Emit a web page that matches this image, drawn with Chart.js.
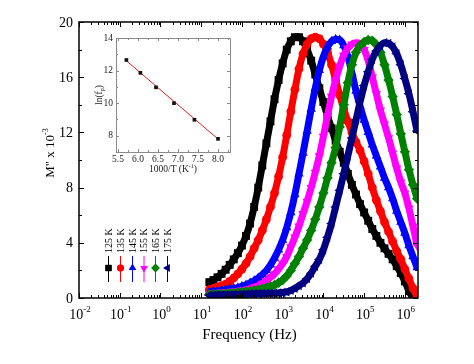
<!DOCTYPE html>
<html>
<head>
<meta charset="utf-8">
<script src="https://cdn.jsdelivr.net/npm/chart.js@4.4.0/dist/chart.umd.min.js"></script>
<style>
  html, body { margin: 0; padding: 0; background: #fff; }
  #wrap { position: relative; width: 474px; height: 364px; }
  #main { position: absolute; left: 0; top: 0; }
  #inset { position: absolute; left: 86px; top: 28px; }
</style>
</head>
<body>
<div id="wrap">
  <canvas id="main" width="474" height="364"></canvas>
  <canvas id="inset" width="160" height="150"></canvas>
</div>
<script>
// log10 of frequency (Hz) for each measured point
const logFreq = [1.2, 1.3, 1.4, 1.5, 1.6, 1.7, 1.8, 1.9, 2.0, 2.1, 2.2, 2.3, 2.4, 2.5, 2.6, 2.7, 2.8, 2.9,
  3.0, 3.1, 3.2, 3.3, 3.4, 3.5, 3.6, 3.7, 3.8, 3.9, 4.0, 4.1, 4.2, 4.3, 4.4, 4.5, 4.6, 4.7, 4.8, 4.9,
  5.0, 5.1, 5.2, 5.3, 5.4, 5.5, 5.6, 5.7, 5.8, 5.9, 6.0, 6.1, 6.2, 6.3];

// M'' x 10^-3 for each temperature
const m125 = [1.15, 1.3, 1.5, 1.75, 2.05, 2.4, 2.8, 3.25, 3.8, 4.5, 5.4, 6.6, 8.0, 9.6, 11.2, 12.8, 14.4, 15.8,
  17.0, 18.0, 18.6, 18.9, 18.9, 18.6, 18.0, 17.2, 16.2, 15.2, 14.2, 13.2, 12.3, 11.4, 10.6, 9.8, 9.0, 8.2, 7.5, 6.8,
  6.2, 5.6, 5.0, 4.5, 4.0, 3.6, 3.2, 2.8, 2.3, 1.8, 1.2, 0.5, 0.0];
const m135 = [0.6, 0.7, 0.8, 0.9, 1.0, 1.2, 1.45, 1.75, 2.1, 2.5, 3.0, 3.6, 4.2, 4.9, 5.7, 6.6, 7.6, 8.8,
  10.2, 11.8, 13.5, 15.1, 16.6, 17.7, 18.4, 18.8, 18.9, 18.8, 18.4, 17.8, 16.9, 15.8, 14.7, 13.7, 12.8, 12.0, 11.3, 10.7,
  9.9, 9.0, 8.0, 7.1, 6.3, 5.5, 4.8, 4.1, 3.4, 2.8, 2.1, 1.4, 0.7, 0.1];
const m145 = [0.45, 0.48, 0.5, 0.55, 0.6, 0.65, 0.7, 0.75, 0.85, 0.95, 1.1, 1.25, 1.45, 1.7, 2.0, 2.4, 2.9, 3.5,
  4.2, 5.1, 6.2, 7.5, 9.0, 10.5, 12.1, 13.7, 15.2, 16.5, 17.5, 18.2, 18.6, 18.75, 18.7, 18.3, 17.5, 16.3, 15.0, 13.9,
  12.9, 12.0, 11.1, 10.3, 9.5, 8.7, 8.0, 7.2, 6.3, 5.5, 4.7, 3.8, 3.0, 2.2];
const m155 = [0.3, 0.32, 0.35, 0.38, 0.4, 0.43, 0.46, 0.5, 0.55, 0.6, 0.68, 0.78, 0.9, 1.05, 1.25, 1.5, 1.75, 2.1,
  2.5, 3.0, 3.7, 4.4, 5.2, 6.1, 7.0, 8.0, 9.1, 10.3, 11.7, 13.2, 14.6, 15.8, 16.8, 17.6, 18.1, 18.4, 18.5, 18.45,
  18.0, 17.2, 16.0, 14.8, 13.6, 12.6, 11.6, 10.5, 9.4, 8.4, 7.6, 6.5, 5.2, 3.8];
const m165 = [0.25, 0.27, 0.28, 0.3, 0.32, 0.34, 0.37, 0.4, 0.43, 0.47, 0.5, 0.55, 0.6, 0.66, 0.74, 0.83, 0.94, 1.1,
  1.3, 1.6, 2.0, 2.5, 3.0, 3.6, 4.2, 4.9, 5.7, 6.6, 7.6, 8.7, 9.8, 10.9, 12.4, 14.0, 15.6, 16.9, 17.8, 18.3,
  18.55, 18.7, 18.65, 18.35, 17.8, 16.9, 15.8, 14.6, 13.3, 11.9, 10.6, 9.3, 8.2, 7.2];
const m175 = [0.2, 0.2, 0.21, 0.22, 0.23, 0.24, 0.25, 0.26, 0.27, 0.28, 0.29, 0.3, 0.31, 0.32, 0.33, 0.34, 0.35, 0.37,
  0.4, 0.45, 0.55, 0.7, 0.9, 1.1, 1.4, 1.8, 2.3, 2.8, 3.5, 4.4, 5.4, 6.6, 7.8, 9.0, 10.3, 11.6, 12.9, 14.2,
  15.4, 16.4, 17.3, 17.9, 18.3, 18.5, 18.45, 18.2, 17.7, 16.9, 15.9, 14.8, 13.5, 12.1];

const tempLabels = ['125 K', '135 K', '145 K', '155 K', '165 K', '175 K'];
const xTickExp = [-2, -1, 0, 1, 2, 3, 4, 5, 6];
const yTicks = [0, 4, 8, 12, 16, 20];

// inset: Arrhenius plot of the peak frequency
const invT = [5.71, 6.06, 6.45, 6.90, 7.41, 8.00];
const lnFp = [12.65, 11.86, 10.97, 10.0, 8.98, 7.81];
const fitX = [5.70, 8.00];
const fitY = [12.62, 7.80];
const insetXTicks = [5.5, 6.0, 6.5, 7.0, 7.5, 8.0];
const insetYTicks = [8, 10, 12, 14];

const X_MIN = 0.01, X_MAX = 2.1e6;
const SERIF = '"Liberation Serif", "Times New Roman", serif';

const styles = [
  { color: '#000000', point: 'rect', radius: 5.6, legR: 4.4, rot: 0 },
  { color: '#ff0000', point: 'circle', radius: 4.4, legR: 3.5, rot: 0 },
  { color: '#0000ff', point: 'triangle', radius: 5.4, legR: 4.2, rot: 0 },
  { color: '#ff00ff', point: 'triangle', radius: 5.4, legR: 4.2, rot: 180 },
  { color: '#008000', point: 'rectRot', radius: 5.2, legR: 4.2, rot: 0 },
  { color: '#000080', point: 'triangle', radius: 5.4, legR: 4.2, rot: -90 }
];
const seriesValues = [m125, m135, m145, m155, m165, m175];

function toPoints(vals) {
  return vals.map((v, i) => ({ x: Math.pow(10, logFreq[i]), y: v }));
}

const datasets = seriesValues.map((vals, i) => ({
  label: tempLabels[i],
  data: toPoints(vals),
  borderColor: styles[i].color,
  backgroundColor: styles[i].color,
  borderWidth: 7,
  pointStyle: styles[i].point,
  pointRadius: styles[i].radius,
  pointRotation: styles[i].rot,
  pointBorderWidth: 0,
  showLine: true,
  cubicInterpolationMode: 'monotone',
  order: 6 - i
}));

function strokeLine(ctx, x1, y1, x2, y2) {
  ctx.beginPath();
  ctx.moveTo(x1, y1);
  ctx.lineTo(x2, y2);
  ctx.stroke();
}

// draws text parts with raised (sup) or lowered (sub) small parts, centred at cx
function drawScripted(ctx, parts, cx, baseline) {
  let total = 0;
  parts.forEach(p => { ctx.font = p.size + 'px ' + SERIF; p.w = ctx.measureText(p.text).width; total += p.w; });
  let xx = cx - total / 2;
  ctx.textAlign = 'left';
  ctx.textBaseline = 'alphabetic';
  parts.forEach(p => {
    ctx.font = p.size + 'px ' + SERIF;
    ctx.fillText(p.text, xx, baseline + (p.dy || 0));
    xx += p.w;
  });
}

const mainAxes = {
  id: 'mainAxes',
  afterDatasetsDraw(chart) {
    const { ctx, chartArea: a, scales: { x, y } } = chart;
    ctx.save();
    ctx.strokeStyle = '#000';
    ctx.fillStyle = '#000';
    ctx.lineWidth = 1.5;
    ctx.strokeRect(a.left, a.top, a.right - a.left, a.bottom - a.top);

    // x ticks (log, with minors), mirrored on top
    ctx.lineWidth = 1;
    for (const e of xTickExp) {
      for (let m = 1; m <= 9; m++) {
        const v = m * Math.pow(10, e);
        if (v > X_MAX) break;
        const px = Math.round(x.getPixelForValue(v)) + 0.5;
        const len = m === 1 ? 5 : 3;
        strokeLine(ctx, px, a.bottom, px, a.bottom - len);
        strokeLine(ctx, px, a.top, px, a.top + len);
      }
      const px = x.getPixelForValue(Math.pow(10, e));
      drawScripted(ctx, [
        { text: '10', size: 14 },
        { text: e < 0 ? '-' + (-e) : String(e), size: 9, dy: -7 }
      ], px + 1, a.bottom + 21);
    }

    // y ticks, mirrored on right
    for (let v = 0; v <= 20; v += 2) {
      const py = Math.round(y.getPixelForValue(v)) + 0.5;
      const len = v % 4 === 0 ? 5 : 3;
      strokeLine(ctx, a.left, py, a.left + len, py);
      strokeLine(ctx, a.right, py, a.right - len, py);
    }
    ctx.font = '14px ' + SERIF;
    ctx.textAlign = 'right';
    ctx.textBaseline = 'middle';
    for (const v of yTicks) {
      ctx.fillText(String(v), a.left - 6, y.getPixelForValue(v) + 1);
    }

    // axis titles
    ctx.textAlign = 'center';
    ctx.textBaseline = 'alphabetic';
    ctx.font = '15px ' + SERIF;
    ctx.fillText('Frequency (Hz)', (a.left + a.right) / 2 + 1, a.bottom + 41);

    ctx.save();
    ctx.translate(54, 153);
    ctx.rotate(-Math.PI / 2);
    drawScripted(ctx, [
      { text: 'M" x 10', size: 13 },
      { text: '-3', size: 8, dy: -6 }
    ], 0, 0);
    ctx.restore();

    // legend: rotated labels above vertical line + marker
    const legX = [108, 120, 132, 143.5, 155, 167];
    styles.forEach((s, i) => {
      const lx = legX[i];
      ctx.save();
      ctx.translate(lx + 3.5, 253);
      ctx.rotate(-Math.PI / 2);
      ctx.font = '10px ' + SERIF;
      ctx.fillStyle = '#000';
      ctx.textAlign = 'left';
      ctx.textBaseline = 'alphabetic';
      ctx.fillText(tempLabels[i], 0, 0);
      ctx.restore();
      ctx.strokeStyle = s.color;
      ctx.lineWidth = 1;
      strokeLine(ctx, lx + 0.5, 256, lx + 0.5, 282);
      ctx.fillStyle = s.color;
      Chart.helpers.drawPoint(ctx, {
        pointStyle: s.point, radius: s.legR, rotation: s.rot, borderWidth: 0
      }, lx + 0.5, 268);
      ctx.fill();
    });
    ctx.restore();
  }
};

new Chart(document.getElementById('main'), {
  type: 'scatter',
  data: { datasets: datasets },
  options: {
    responsive: false,
    devicePixelRatio: 1,
    animation: false,
    layout: { padding: { left: 79, right: 56, top: 22, bottom: 66 } },
    plugins: { legend: { display: false }, tooltip: { enabled: false } },
    scales: {
      x: { type: 'logarithmic', min: X_MIN, max: X_MAX, display: false },
      y: { type: 'linear', min: 0, max: 20, display: false }
    }
  },
  plugins: [mainAxes]
});

// ----- inset -----
const insetAxes = {
  id: 'insetAxes',
  beforeDatasetsDraw(chart) {
    const { ctx, chartArea: a } = chart;
    ctx.save();
    ctx.fillStyle = '#fff';
    ctx.fillRect(a.left, a.top, a.right - a.left, a.bottom - a.top);
    ctx.restore();
  },
  afterDatasetsDraw(chart) {
    const { ctx, chartArea: a, scales: { x, y } } = chart;
    ctx.save();
    ctx.strokeStyle = '#8a8a8a';
    ctx.lineWidth = 1;
    ctx.strokeRect(Math.round(a.left) + 0.5, Math.round(a.top) + 0.5,
      Math.round(a.right - a.left), Math.round(a.bottom - a.top));
    for (let v = 5.5; v <= 8.25; v += 0.25) {
      const px = Math.round(x.getPixelForValue(v)) + 0.5;
      const len = Math.abs(v * 2 - Math.round(v * 2)) < 1e-6 ? 3 : 2;
      strokeLine(ctx, px, a.bottom, px, a.bottom - len);
      strokeLine(ctx, px, a.top, px, a.top + len);
    }
    for (let v = 7; v <= 14; v += 1) {
      const py = Math.round(y.getPixelForValue(v)) + 0.5;
      const len = v % 2 === 0 ? 3 : 2;
      strokeLine(ctx, a.left, py, a.left + len, py);
      strokeLine(ctx, a.right, py, a.right - len, py);
    }
    ctx.fillStyle = '#222';
    ctx.font = '9.5px ' + SERIF;
    ctx.textAlign = 'center';
    ctx.textBaseline = 'alphabetic';
    for (const v of insetXTicks) {
      ctx.fillText(v.toFixed(1), x.getPixelForValue(v), a.bottom + 10);
    }
    ctx.textAlign = 'right';
    ctx.textBaseline = 'middle';
    for (const v of insetYTicks) {
      ctx.fillText(String(v), a.left - 3, y.getPixelForValue(v));
    }
    drawScripted(ctx, [
      { text: '1000/T (K', size: 9.5 },
      { text: '-1', size: 6, dy: -4 },
      { text: ')', size: 9.5 }
    ], (a.left + a.right) / 2, a.bottom + 20);
    ctx.save();
    ctx.translate(16, (a.top + a.bottom) / 2);
    ctx.rotate(-Math.PI / 2);
    drawScripted(ctx, [
      { text: 'ln(f', size: 9.5 },
      { text: 'p', size: 6, dy: 2 },
      { text: ')', size: 9.5 }
    ], 0, 0);
    ctx.restore();
    ctx.restore();
  }
};

new Chart(document.getElementById('inset'), {
  type: 'scatter',
  data: {
    datasets: [
      {
        data: invT.map((v, i) => ({ x: v, y: lnFp[i] })),
        pointStyle: 'rect',
        pointRadius: 2.6,
        backgroundColor: '#111',
        borderWidth: 0,
        showLine: false,
        order: 0
      },
      {
        data: fitX.map((v, i) => ({ x: v, y: fitY[i] })),
        borderColor: '#e02020',
        borderWidth: 1,
        pointRadius: 0,
        showLine: true,
        order: 1
      }
    ]
  },
  options: {
    responsive: false,
    devicePixelRatio: 1,
    animation: false,
    layout: { padding: { left: 30, right: 16, top: 10, bottom: 26 } },
    plugins: { legend: { display: false }, tooltip: { enabled: false } },
    scales: {
      x: { type: 'linear', min: 5.45, max: 8.3, display: false },
      y: { type: 'linear', min: 7, max: 14, display: false }
    }
  },
  plugins: [insetAxes]
});
</script>
</body>
</html>
